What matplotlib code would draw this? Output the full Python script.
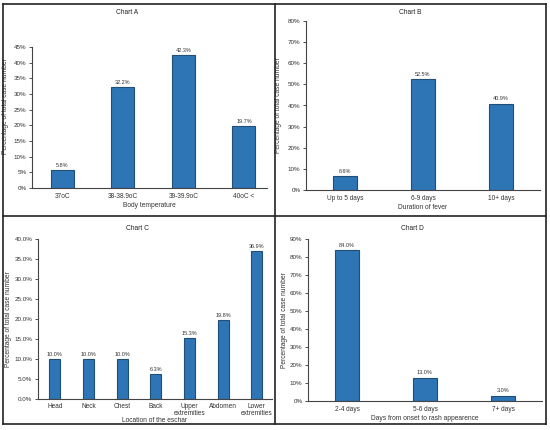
import matplotlib
matplotlib.use("Agg")
import matplotlib.pyplot as plt
from matplotlib.lines import Line2D
from matplotlib.ticker import FuncFormatter

plt.rcParams['font.family'] = ['Liberation Sans', 'DejaVu Sans']

# data
temp_cats = ['37oC', '38-38.9oC', '39-39.9oC', '40oC <']
temp_vals = [5.8, 32.2, 42.3, 19.7]

fever_cats = ['Up to 5 days', '6-9 days', '10+ days']
fever_vals = [6.6, 52.5, 40.9]

eschar_cats = ['Head', 'Neck', 'Chest', 'Back', 'Upper\nextremities',
               'Abdomen', 'Lower\nextremities']
eschar_vals = [10.0, 10.0, 10.0, 6.3, 15.3, 19.8, 36.9]

rash_cats = ['2-4 days', '5-6 days', '7+ days']
rash_vals = [84.0, 13.0, 3.0]

W, H = 550, 430
BAR = '#2E75B6'
EDGE = '#1F4E79'


def px_axes(fig, left, right, top, bottom):
    return fig.add_axes([left / W, 1 - bottom / H, (right - left) / W, (bottom - top) / H])


def draw(ax, cats, vals, ymax, step, width, xright, fmt, title, tpos, xlab, ylab_x,
         ylab_shift=0.5, xpad=3.5, lpad=1.5):
    xs = range(len(cats))
    ax.bar(xs, vals, width=width, color=BAR, edgecolor=EDGE, linewidth=0.8)
    for x, v in zip(xs, vals):
        ax.text(x, v + ymax * 0.014, f'{v:.1f}%', ha='center', va='bottom', fontsize=4.0, color='#333333')
    ax.set_ylim(0, ymax)
    ax.set_xlim(-0.5, len(cats) - 1 + xright)
    ax.set_yticks(range(0, ymax + 1, step))
    ax.yaxis.set_major_formatter(FuncFormatter(lambda v, p: fmt % v))
    ax.set_xticks(list(xs))
    ax.set_xticklabels(cats, fontsize=4.7, color='#333333', linespacing=0.9)
    ax.tick_params(axis='y', labelsize=4.5, colors='#333333', length=2, width=0.6, pad=2)
    ax.tick_params(axis='x', length=0, pad=xpad)
    for s in ['top', 'right']:
        ax.spines[s].set_visible(False)
    for s in ['left', 'bottom']:
        ax.spines[s].set_color('#444444')
        ax.spines[s].set_linewidth(0.8)
    ax.set_xlabel(xlab, fontsize=4.8, color='#333333', labelpad=lpad)
    ax.set_ylabel('Percentage of total case number', fontsize=4.8, color='#333333')
    pos = ax.get_position()
    ax.yaxis.set_label_coords(ylab_x, pos.y0 + pos.height * ylab_shift, transform=fig.transFigure)
    fig.text(tpos[0] / W, 1 - tpos[1] / H, title, ha='center', va='center', fontsize=4.8, color='#222222')


fig = plt.figure(figsize=(5.5, 4.3), dpi=100)

axA = px_axes(fig, 32, 267, 47, 188)
draw(axA, temp_cats, temp_vals, 45, 5, 0.38, 0.38, '%d%%', 'Chart A', (127, 13), 'Body temperature', 9 / W,
     ylab_shift=0.58)

axB = px_axes(fig, 306, 540, 21, 190)
draw(axB, fever_cats, fever_vals, 80, 10, 0.3, 0.5, '%d%%', 'Chart B', (410, 12), 'Duration of fever', 282 / W)

axC = px_axes(fig, 38, 272, 239, 399)
draw(axC, eschar_cats, eschar_vals, 40, 5, 0.33, 0.45, '%.1f%%', 'Chart C', (137, 229), 'Location of the eschar', 12 / W,
     xpad=3, lpad=0.3)

axD = px_axes(fig, 308, 542, 239, 401)
draw(axD, rash_cats, rash_vals, 90, 10, 0.32, 0.5, '%d%%', 'Chart D', (412, 229), 'Days from onset to rash appearence', 288 / W)

# panel frame
x0, x1, xm = 3 / W, 546 / W, 275 / W
y0, y1, ym = 1 - 4 / H, 1 - 424 / H, 1 - 216 / H
for xs_, ys_ in [([x0, x1], [y0, y0]), ([x0, x1], [y1, y1]), ([x0, x0], [y0, y1]),
                 ([x1, x1], [y0, y1]), ([xm, xm], [y0, y1]), ([x0, x1], [ym, ym])]:
    fig.add_artist(Line2D(xs_, ys_, color='#222222', linewidth=1.2))

fig.savefig('out.png', dpi=100)
